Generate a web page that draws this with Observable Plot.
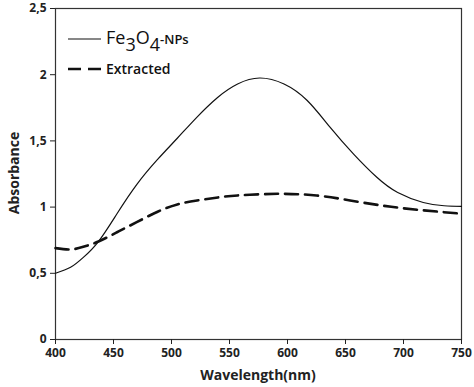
<!DOCTYPE html>
<html>
<head>
<meta charset="utf-8">
<script src="https://cdn.jsdelivr.net/npm/d3@7"></script>
<script src="https://cdn.jsdelivr.net/npm/@observablehq/plot@0.6"></script>
<style>
  html, body { margin: 0; padding: 0; background: #fff; }
  #chart svg { display: block; }
</style>
</head>
<body>
<div id="chart"></div>
<script>
// Fe3O4-NPs spectrum (solid)
const feWavelength = [400, 413, 424, 437, 453, 470, 488, 505, 522, 540, 557, 576, 597, 617, 637, 657, 677, 695, 717, 735, 750];
const feAbsorbance = [0.50, 0.545, 0.62, 0.74, 0.95, 1.17, 1.36, 1.52, 1.68, 1.83, 1.93, 1.975, 1.93, 1.805, 1.60, 1.40, 1.225, 1.11, 1.035, 1.01, 1.005];
// Extracted spectrum (dashed)
const exWavelength = [400, 413, 424, 437, 453, 470, 488, 505, 522, 540, 557, 580, 597, 625, 654, 683, 712, 750];
const exAbsorbance = [0.69, 0.68, 0.70, 0.74, 0.81, 0.886, 0.965, 1.02, 1.05, 1.073, 1.088, 1.098, 1.10, 1.088, 1.05, 1.01, 0.98, 0.95];
const xTicks = [400, 450, 500, 550, 600, 650, 700, 750];
const yTicks = [0, 0.5, 1, 1.5, 2, 2.5];
const seriesNames = ["Fe3O4-NPs", "Extracted"];

const fe = feWavelength.map((w, i) => ({w, a: feAbsorbance[i]}));
const ex = exWavelength.map((w, i) => ({w, a: exAbsorbance[i]}));

const font = "'Open Sans', 'DejaVu Sans', sans-serif";

const plot = Plot.plot({
  width: 474,
  height: 387,
  marginLeft: 55,
  marginRight: 13,
  marginTop: 8,
  marginBottom: 48,
  style: {fontFamily: font, fontSize: "12px", fontWeight: "bold", color: "#222", background: "#fff"},
  x: {domain: [400, 750], ticks: xTicks, tickSize: 5, tickPadding: 4, label: null},
  y: {domain: [0, 2.5], ticks: yTicks, tickSize: 5, tickPadding: 4, label: null,
      tickFormat: d => String(d).replace(".", ",")},
  marks: [
    Plot.frame({stroke: "#333", strokeWidth: 1.2}),
    Plot.axisX({ticks: xTicks, tickSize: 5, tickPadding: 4, label: null}),
    Plot.axisY({ticks: yTicks, tickSize: 5, tickPadding: 4, label: null,
      tickFormat: d => String(d).replace(".", ",")}),
    Plot.line(fe, {x: "w", y: "a", curve: "natural", stroke: "#111", strokeWidth: 1.2}),
    Plot.line(ex, {x: "w", y: "a", curve: "natural", stroke: "#111", strokeWidth: 2.6, strokeDasharray: "13,7"}),
  ]
});

document.getElementById("chart").appendChild(plot);

const svg = d3.select(plot);
// axis titles
svg.append("text")
  .attr("x", 258).attr("y", 380)
  .attr("text-anchor", "middle")
  .style("font-family", font).style("font-size", "14px").style("font-weight", "bold").attr("fill", "#222")
  .text("Wavelength(nm)");
svg.append("text")
  .attr("transform", "translate(19,173) rotate(-90)")
  .attr("text-anchor", "middle")
  .style("font-family", font).style("font-size", "14px").style("font-weight", "bold").attr("fill", "#222")
  .text("Absorbance");

// legend
const lg = svg.append("g").attr("text-anchor", "start");
lg.append("line").attr("x1", 68).attr("x2", 101).attr("y1", 39).attr("y2", 39)
  .attr("stroke", "#111").attr("stroke-width", 1.2);
const t1 = lg.append("text").attr("x", 106).attr("y", 44).attr("text-anchor", "start")
  .style("font-family", font).style("font-weight", "normal").attr("fill", "#111");
t1.append("tspan").style("font-size", "18px").text("Fe");
t1.append("tspan").style("font-size", "18px").attr("dy", "7").text("3");
t1.append("tspan").style("font-size", "18px").attr("dy", "-7").text("O");
t1.append("tspan").style("font-size", "18px").attr("dy", "7").text("4");
t1.append("tspan").style("font-size", "13px").style("font-weight", "600").attr("dy", "-7").text("-NPs");

lg.append("line").attr("x1", 68).attr("x2", 101).attr("y1", 69).attr("y2", 69)
  .attr("stroke", "#111").attr("stroke-width", 2.6).attr("stroke-dasharray", "13,7");
lg.append("text").attr("x", 106).attr("y", 74).attr("text-anchor", "start")
  .style("font-family", font).style("font-size", "14px").style("font-weight", "600").attr("fill", "#111")
  .text(seriesNames[1]);
</script>
</body>
</html>
